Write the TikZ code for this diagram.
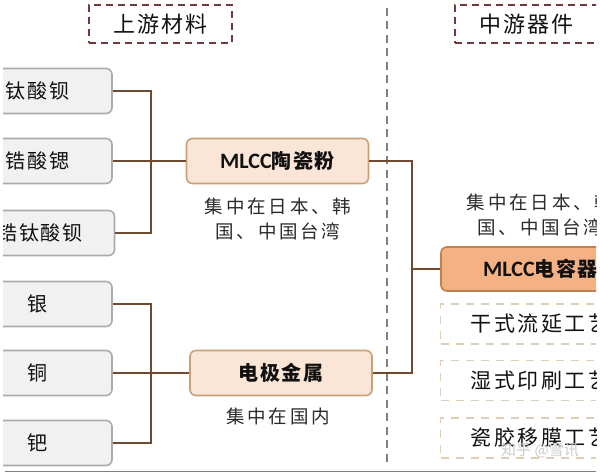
\documentclass[tikz,border=0pt]{standalone}
\usepackage{fontspec}
\newfontfamily\cjk{Noto Sans CJK SC}
\newfontfamily\cjkwide[LetterSpace=8]{Noto Sans CJK SC}
\newfontfamily\cjkwider[LetterSpace=12]{Noto Sans CJK SC}
\newfontfamily\cjknote[LetterSpace=15]{Noto Sans CJK SC}
\newfontfamily\latb{Carlito}
\definecolor{boxfill}{HTML}{F1F1F1}
\definecolor{boxline}{HTML}{ABABAB}
\definecolor{peach}{HTML}{FBE5D6}
\definecolor{peachline}{HTML}{C9A077}
\definecolor{orangefill}{HTML}{F4B183}
\definecolor{orangeline}{HTML}{C08050}
\definecolor{wire}{HTML}{6F4A2E}
\definecolor{headdash}{HTML}{6E3A3C}
\definecolor{procdash}{HTML}{E0CDB8}
\definecolor{ink}{HTML}{111111}
\definecolor{note}{HTML}{2A2A2A}
\tikzset{
  x=1pt,y=-1pt,
  graybox/.style={draw=boxline,line width=1.6pt,fill=boxfill,rounded corners=6pt,minimum height=45pt,minimum width=149pt,inner sep=0pt,text=ink,font=\fontsize{20}{20}\selectfont\cjkwide},
  peachbox/.style={draw=peachline,line width=1.6pt,fill=peach,rounded corners=6pt,minimum height=45pt,minimum width=182pt,inner sep=0pt,text=ink,font=\fontsize{20}{20}\selectfont\cjkwide},
  capbox/.style={draw=orangeline,line width=1.6pt,fill=orangefill,rounded corners=6pt,minimum height=44pt,minimum width=199pt,inner sep=0pt,text=ink,font=\fontsize{20}{20}\selectfont\cjkwide},
  headbox/.style={draw=headdash,line width=1.5pt,dash pattern=on 7pt off 5pt,minimum height=38pt,minimum width=143pt,inner sep=0pt,text=ink,font=\fontsize{22}{22}\selectfont\cjkwide},
  procbox/.style={draw=procdash,line width=1.4pt,dash pattern=on 8pt off 7pt,minimum height=40pt,minimum width=199pt,inner sep=0pt,text=ink,font=\fontsize{21}{21}\selectfont\cjkwider},
  notetext/.style={align=center,inner sep=0pt,text=note,font=\fontsize{18.5}{25.5}\selectfont\cjknote},
  wireline/.style={draw=wire,line width=1.5pt},
  divider/.style={draw=gray,line width=1.5pt,dash pattern=on 8pt off 5.5pt}
}
\begin{document}
\begin{tikzpicture}
\useasboundingbox (0,0) rectangle (600,473);
\begin{scope}
\clip (3,0) rectangle (596,473);
\coordinate (divtop) at (387,8);
\coordinate (divbot) at (387,463);
\draw[divider] (divtop) -- (divbot);
\node[headbox] (uphead) at (160.5,24) {上游材料};
\node[headbox] (midhead) at (526.5,24) {中游器件};
\node[graybox] (ba) at (37.5,91) {钛酸钡};
\node[graybox] (sr) at (37.5,161) {锆酸锶};
\node[graybox] (zr) at (40,233) {锆钛酸钡};
\node[graybox] (ag) at (37.5,304) {银};
\node[graybox] (cu) at (37.5,373) {铜};
\node[graybox] (pd) at (37.5,443) {钯};
\node[peachbox] (pow) at (277.5,161) {{\latb\bfseries\fontsize{22}{22}\selectfont MLCC}{\bfseries 陶瓷粉}};
\node[peachbox] (met) at (281,373) {{\bfseries 电极金属}};
\node[capbox] (cap) at (540.5,269) {{\latb\bfseries\fontsize{22}{22}\selectfont MLCC}{\bfseries 电容器}};
\node[procbox] (dry) at (540,324) {干式流延工艺};
\node[procbox] (wet) at (540,380.5) {湿式印刷工艺};
\node[procbox] (cer) at (540,438) {瓷胶移膜工艺};
\node[notetext] (n1) at (278,219) {集中在日本、韩\\国、中国台湾};
\node[notetext] (n2) at (278,416) {集中在国内};
\node[notetext] (n3) at (540,215) {集中在日本、韩\\国、中国台湾};
\coordinate (j1) at (151,161);
\coordinate (j2) at (151,373);
\coordinate (j3) at (412,269);
\draw[wireline] (ba.east) -| (j1);
\draw[wireline] (zr.east) -| (j1);
\draw[wireline] (sr.east) -- (pow.west);
\draw[wireline] (ag.east) -| (j2);
\draw[wireline] (pd.east) -| (j2);
\draw[wireline] (cu.east) -- (met.west);
\draw[wireline] (pow.east) -| (j3);
\draw[wireline] (met.east) -| (j3);
\draw[wireline] (j3) -- (cap.west);
\node[inner sep=0pt,text=gray!40,font=\fontsize{15}{15}\selectfont\cjk] (mark) at (540,450) {知乎 @雪讯};
\end{scope}
\coordinate (rulel) at (5,471);
\coordinate (ruler) at (596,471);
\draw[draw=gray,line width=0.8pt] (rulel) -- (ruler);
\end{tikzpicture}
\end{document}
